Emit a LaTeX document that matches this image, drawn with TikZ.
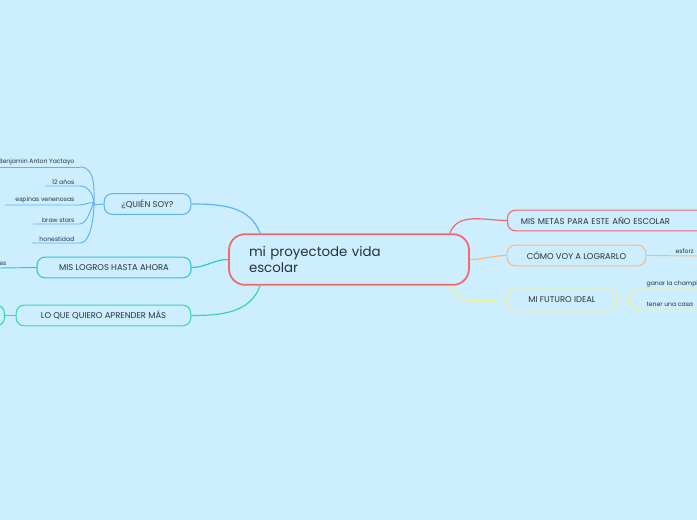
\documentclass[tikz,border=0pt]{standalone}
\usepackage{fontspec}
\setmainfont{Poppins}
\definecolor{bg}{RGB}{204,238,255}
\definecolor{cred}{RGB}{242,104,104}
\definecolor{cblue}{RGB}{94,178,245}
\definecolor{ccyan}{RGB}{40,200,216}
\definecolor{cgreen}{RGB}{60,214,170}
\definecolor{corange}{RGB}{250,183,128}
\definecolor{cyellow}{RGB}{245,240,130}
\definecolor{ctext}{RGB}{40,50,60}
\tikzset{
  topic/.style={draw, rounded corners=6pt, line width=0.8pt, minimum height=15.5pt,
    inner sep=0pt, text=ctext, font=\fontsize{6.3}{7}\selectfont},
  leaf/.style={inner sep=1pt, text=ctext, font=\fontsize{4.6}{5}\selectfont, anchor=south east},
  link/.style={line width=0.9pt}
}
\begin{document}
\begin{tikzpicture}[x=0.75pt,y=-0.75pt]
  \fill[bg] (0,0) rectangle (697,520);
  \clip (0,0) rectangle (697,520);
  % central topic
  \node[draw=cred, line width=1.3pt, rounded corners=12pt, minimum width=180pt, minimum height=38pt,
        text width=150pt, align=left, inner sep=0pt, text=ctext, font=\fontsize{10}{12}\selectfont]
        (root) at (349,259.5) {mi proyectode vida\\escolar};
  % main topics
  \node[topic, draw=cblue, minimum width=65pt] (quien) at (147.5,204) {¿QUIÉN SOY?};
  \node[topic, draw=ccyan, minimum width=115.5pt] (logros) at (114,267.5) {MIS LOGROS HASTA AHORA};
  \node[topic, draw=cgreen, minimum width=131pt] (aprender) at (103.5,315.5) {LO QUE QUIERO APRENDER MÁS};
  \node[topic, draw=cred, text width=140pt, inner xsep=10pt, align=left, anchor=west] (metas) at (507,220.5) {MIS METAS PARA ESTE AÑO ESCOLAR};
  \node[topic, draw=corange, minimum width=104pt] (como) at (576.5,255.5) {CÓMO VOY A LOGRARLO};
  \node[topic, draw=cyellow, minimum width=82.5pt] (futuro) at (562,299.5) {MI FUTURO IDEAL};
  % connectors from root
  \draw[link, cblue] (root.north west) ++(32,0) coordinate (r1) to[out=110,in=0] (quien.east);
  \draw[link, ccyan] (root.west) to[out=180,in=0] (logros.east);
  \draw[link, cgreen] (root.south west) ++(32,0) coordinate (r3) to[out=250,in=0] (aprender.east);
  \draw[link, cred] (root.north east) ++(-20,0) coordinate (r4) to[out=70,in=180] (metas.west);
  \draw[link, corange] (root.east) to[out=0,in=180] (como.west);
  \draw[link, cyellow] (root.south east) ++(-20,0) coordinate (r6) to[out=290,in=180] (futuro.west);
  % subtopics of ¿QUIÉN SOY?
  \coordinate (qb) at (94,205);
  \draw[cblue, line width=0.7pt] (quien.west) -- (qb);
  \foreach \y/\x/\t [count=\i] in {167/80/Benjamin Anton Yactayo, 186/45/12 años,
      205/5/espinas  venenosas, 224/33/braw stars, 243/32/honestidad} {
    \node[leaf] (q\i) at (76,\y) {\t};
    \draw[cblue, line width=0.7pt] (\x,\y) -- (80,\y) to[out=0,in=90] (qb);
  }
  \draw[cblue, line width=0.7pt] (0,167) -- (80,167);
  % other subtopics
  \node[leaf] (logro1) at (8,267) {es};
  \draw[ccyan, line width=0.7pt] (0,268) -- (logros.west);
  \node[draw=cgreen, line width=0.8pt, rounded corners=6pt, minimum width=20pt, minimum height=15.5pt,
        anchor=east] (apr1) at (5,315.5) {};
  \draw[cgreen, line width=0.7pt] (apr1.east) -- (aprender.west);
  \node[leaf, anchor=south west] (como1) at (674,255) {esforz};
  \draw[corange, line width=0.7pt] (como.east) -- (697,256);
  \coordinate (fb) at (628,299.5);
  \draw[cyellow, line width=0.7pt] (futuro.east) -- (fb);
  \node[leaf, anchor=south west] (fut1) at (645,289) {ganar la champions};
  \node[leaf, anchor=south west] (fut2) at (645,308) {tener una casa};
  \draw[cyellow, line width=0.7pt] (fb) to[out=90,in=180] (642,289) -- (697,289);
  \draw[cyellow, line width=0.7pt] (fb) to[out=270,in=180] (642,309) -- (697,309);
\end{tikzpicture}
\end{document}
